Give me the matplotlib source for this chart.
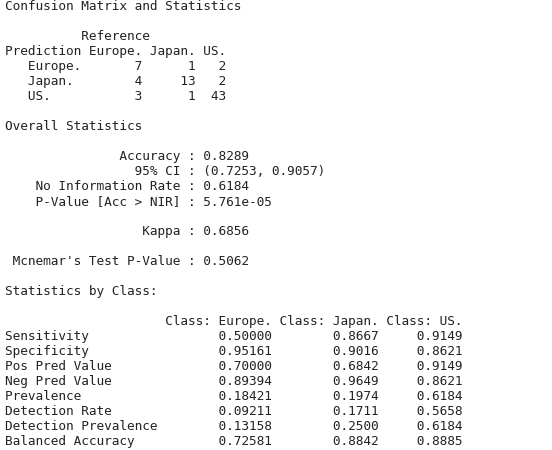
import matplotlib.pyplot as plt

matrix_labels = ['Europe.', 'Japan.', 'US.']
matrix_counts = [[7, 1, 2], [4, 13, 2], [3, 1, 43]]

overall_names = ['Accuracy', '95% CI', 'No Information Rate', 'P-Value [Acc > NIR]']
overall_values = ['0.8289', '(0.7253, 0.9057)', '0.6184', '5.761e-05']
kappa = '0.6856'
mcnemar_p = '0.5062'

class_stats = ['Sensitivity', 'Specificity', 'Pos Pred Value', 'Neg Pred Value',
               'Prevalence', 'Detection Rate', 'Detection Prevalence', 'Balanced Accuracy']
europe_vals = ['0.50000', '0.95161', '0.70000', '0.89394', '0.18421', '0.09211', '0.13158', '0.72581']
japan_vals = ['0.8667', '0.9016', '0.6842', '0.9649', '0.1974', '0.1711', '0.2500', '0.8842']
us_vals = ['0.9149', '0.8621', '0.9149', '0.8621', '0.6184', '0.5658', '0.6184', '0.8885']

lines = ['Confusion Matrix and Statistics', '',
         '          Reference',
         'Prediction ' + ' '.join(matrix_labels)]
for lab, row in zip(matrix_labels, matrix_counts):
    lines.append('   ' + lab.ljust(8) + str(row[0]).rjust(7) + str(row[1]).rjust(7) + str(row[2]).rjust(4))
lines += ['', 'Overall Statistics', '']
for n, v in zip(overall_names, overall_values):
    lines.append(n.rjust(23) + ' : ' + v)
lines += ['', 'Kappa'.rjust(23) + ' : ' + kappa, '',
          " Mcnemar's Test P-Value : " + mcnemar_p, '',
          'Statistics by Class:', '',
          '                     Class: Europe. Class: Japan. Class: US.']
for n, e, j, u in zip(class_stats, europe_vals, japan_vals, us_vals):
    lines.append(n.ljust(28) + e.rjust(7) + j.rjust(14) + u.rjust(11))

fig = plt.figure(figsize=(5.52, 4.5), dpi=100)
for i, line in enumerate(lines):
    y = 7 + i * 14.97
    fig.text(5 / 552, 1 - y / 450, line, family='DejaVu Sans Mono', fontsize=9.2,
             color='#222222', va='center', ha='left')
fig.savefig('out.png', dpi=100, facecolor='white')
